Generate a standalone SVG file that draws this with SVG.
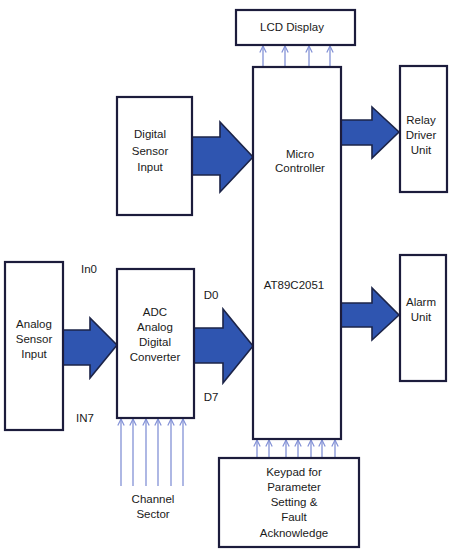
<svg xmlns="http://www.w3.org/2000/svg" width="453" height="556" viewBox="0 0 453 556">
<defs>
<style>
.box{fill:#fff;stroke:#1c1c3c;stroke-width:2.2}
.big{fill:#2f55b0;stroke:#1c2448;stroke-width:1.6;stroke-linejoin:miter}
.thin{stroke:#8391d6;stroke-width:1.3;fill:none}
text{font-family:"Liberation Sans",Arial,sans-serif;font-size:11.5px;fill:#1a1a1a;text-anchor:middle}
</style>
<marker id="ah" viewBox="0 0 10 10" refX="9" refY="5" markerWidth="8" markerHeight="8" orient="auto" markerUnits="userSpaceOnUse">
<path d="M1,1 L9,5 L1,9" fill="none" stroke="#8391d6" stroke-width="1.5"/>
</marker>
</defs>
<rect width="453" height="556" fill="#fff"/>
<g id="connectors">
<path class="big" d="M192,137 H220 V122 L253,157 L220,192 V175 H192 Z"/>
<path class="big" d="M63,330 H90 V318 L117,345 L90,378 V365 H63 Z"/>
<path class="big" d="M194,328 H223 V309 L253,346 L223,383 V363 H194 Z"/>
<path class="big" d="M341,120 H372 V107 L399,132 L372,158 V145 H341 Z"/>
<path class="big" d="M341,303 H372 V288 L399,315 L372,340 V327 H341 Z"/>
<g class="thin" marker-end="url(#ah)">
<line x1="263" y1="67" x2="263" y2="46"/>
<line x1="285" y1="67" x2="285" y2="46"/>
<line x1="309" y1="67" x2="309" y2="46"/>
<line x1="330" y1="67" x2="330" y2="46"/>
<line x1="121" y1="486" x2="121" y2="419"/>
<line x1="133" y1="486" x2="133" y2="419"/>
<line x1="146" y1="486" x2="146" y2="419"/>
<line x1="158" y1="486" x2="158" y2="419"/>
<line x1="171" y1="486" x2="171" y2="419"/>
<line x1="183" y1="486" x2="183" y2="419"/>
<line x1="257" y1="458" x2="257" y2="440"/>
<line x1="269" y1="458" x2="269" y2="440"/>
<line x1="286" y1="458" x2="286" y2="440"/>
<line x1="298" y1="458" x2="298" y2="440"/>
<line x1="311" y1="458" x2="311" y2="440"/>
<line x1="322" y1="458" x2="322" y2="440"/>
<line x1="335" y1="458" x2="335" y2="440"/>
</g>
</g>
<g id="lcd">
<rect class="box" x="236" y="10" width="119" height="35"/>
<text x="292" y="31">LCD Display</text>
</g>
<g id="mcu">
<rect class="box" x="253" y="67" width="88" height="372"/>
<text x="300" y="158">Micro</text>
<text x="300" y="172">Controller</text>
<text x="294" y="289">AT89C2051</text>
</g>
<g id="digital">
<rect class="box" x="117" y="97" width="75" height="118"/>
<text x="150" y="138">Digital</text>
<text x="150" y="155">Sensor</text>
<text x="150" y="171">Input</text>
</g>
<g id="relay">
<rect class="box" x="400" y="66" width="47" height="126"/>
<text x="421" y="124">Relay</text>
<text x="421" y="139">Driver</text>
<text x="421" y="154">Unit</text>
</g>
<g id="alarm">
<rect class="box" x="400" y="255" width="46" height="126"/>
<text x="421" y="306">Alarm</text>
<text x="421" y="321">Unit</text>
</g>
<g id="analog">
<rect class="box" x="5" y="262" width="58" height="168"/>
<text x="34" y="328">Analog</text>
<text x="34" y="343">Sensor</text>
<text x="34" y="358">Input</text>
</g>
<g id="adc">
<rect class="box" x="117" y="269" width="77" height="149"/>
<text x="155" y="316">ADC</text>
<text x="155" y="331">Analog</text>
<text x="155" y="346">Digital</text>
<text x="155" y="361">Converter</text>
</g>
<g id="labels">
<text x="89" y="273">In0</text>
<text x="85" y="422">IN7</text>
<text x="211" y="299">D0</text>
<text x="211" y="401">D7</text>
<text x="153" y="503">Channel</text>
<text x="153" y="518">Sector</text>
</g>
<g id="keypad">
<rect class="box" x="219" y="458" width="140" height="89"/>
<text x="294" y="476">Keypad for</text>
<text x="294" y="491">Parameter</text>
<text x="294" y="506">Setting &amp;</text>
<text x="294" y="521">Fault</text>
<text x="294" y="537">Acknowledge</text>
</g>
</svg>
